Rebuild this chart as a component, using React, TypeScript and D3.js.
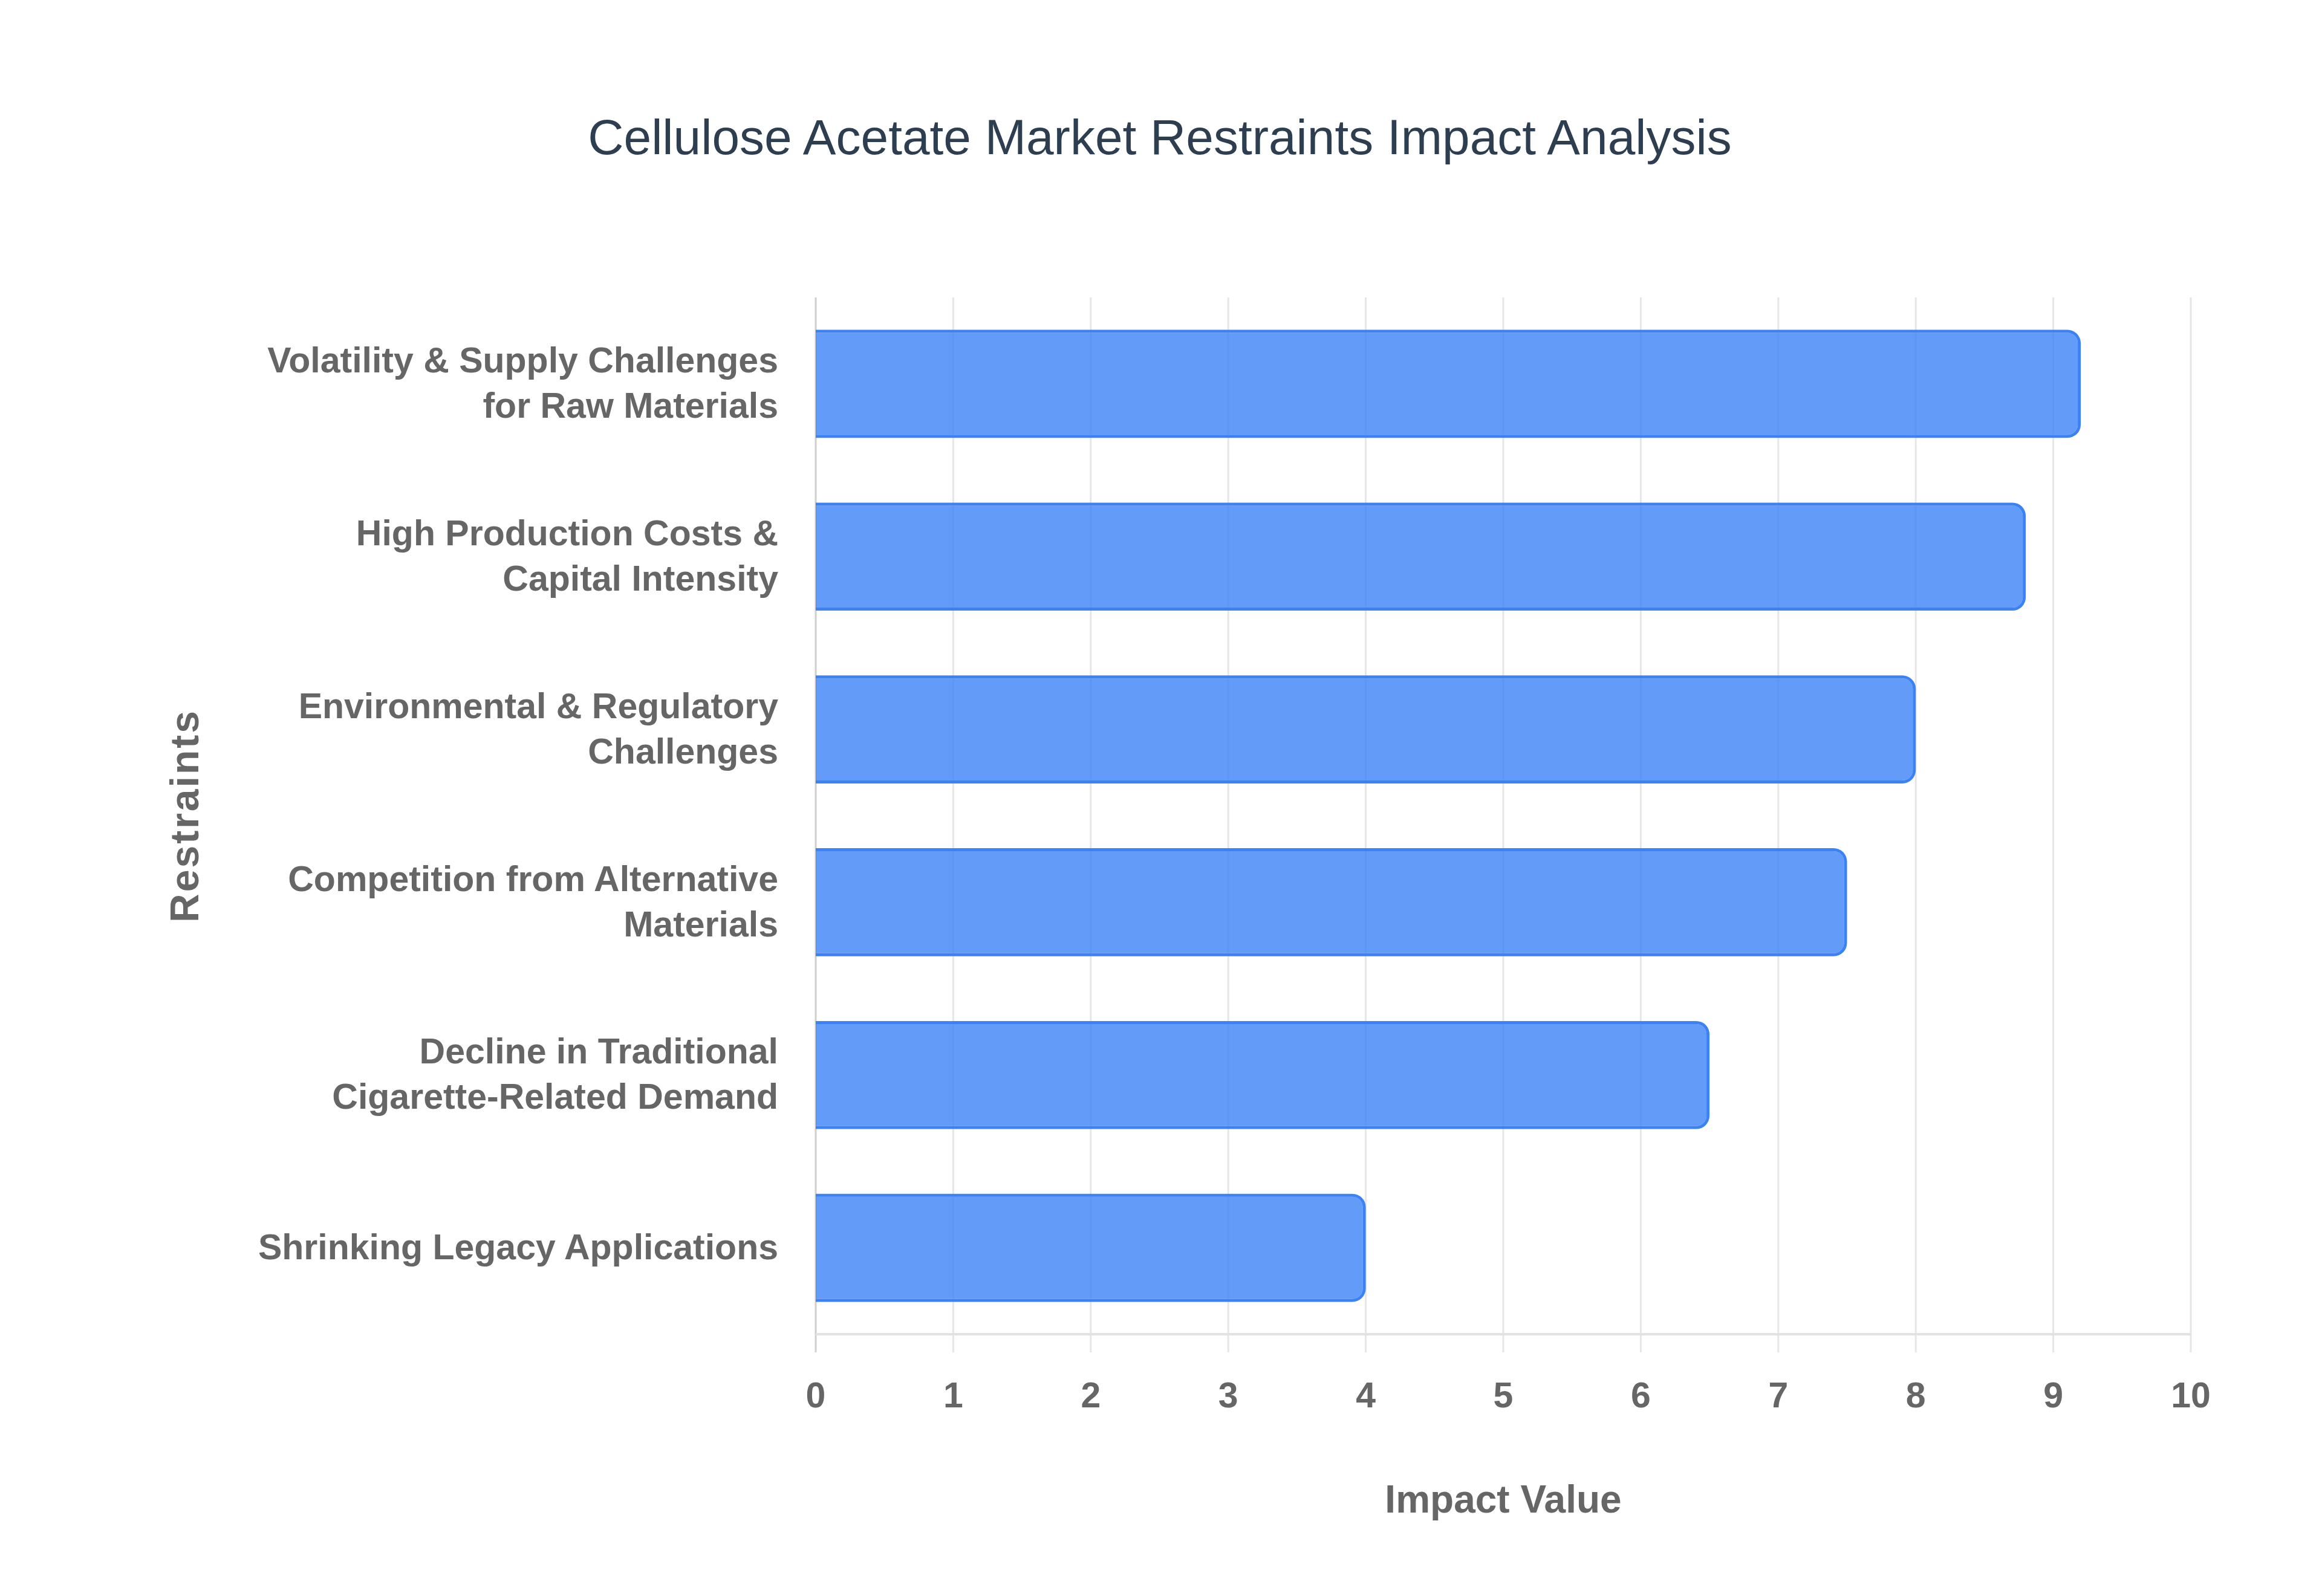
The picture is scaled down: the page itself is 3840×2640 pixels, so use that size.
import * as d3 from "d3";

const restraints = [
  ["Volatility & Supply Challenges", "for Raw Materials"],
  ["High Production Costs &", "Capital Intensity"],
  ["Environmental & Regulatory", "Challenges"],
  ["Competition from Alternative", "Materials"],
  ["Decline in Traditional", "Cigarette-Related Demand"],
  ["Shrinking Legacy Applications"],
];
const impactValues = [9.2, 8.8, 8.0, 7.5, 6.5, 4.0];
const xTicks = [0, 1, 2, 3, 4, 5, 6, 7, 8, 9, 10];

const W = 3840;
const H = 2640;
const margin = { top: 492, right: 217, bottom: 433, left: 1349 };
const FONT = "'Liberation Sans', Arial, Helvetica, sans-serif";

// right-rounded bar, left edge flat on the axis
function barPath(x0: number, y0: number, x1: number, y1: number, r: number) {
  const p = d3.path();
  const rr = Math.max(0, Math.min(r, (y1 - y0) / 2, x1 - x0));
  p.moveTo(x0, y0);
  p.lineTo(x1 - rr, y0);
  p.arcTo(x1, y0, x1, y0 + rr, rr);
  p.lineTo(x1, y1 - rr);
  p.arcTo(x1, y1, x1 - rr, y1, rr);
  p.lineTo(x0, y1);
  p.closePath();
  return p.toString();
}

export default function App() {
  const x = d3
    .scaleLinear()
    .domain([0, 10])
    .range([margin.left, W - margin.right]);
  const keys = restraints.map((r) => r.join(" "));
  const y = d3
    .scaleBand<string>()
    .domain(keys)
    .range([margin.top, H - margin.bottom])
    .padding(0);
  const barH = y.bandwidth() * 0.625;
  const bw = 5;
  const radius = 22;
  const plotTop = margin.top;
  const plotBottom = H - margin.bottom;
  const tickLen = 30;

  return (
    <svg
      width={W}
      height={H}
      style={{ position: "absolute", left: 0, top: 0, background: "#fff" }}
    >
      <rect width={W} height={H} fill="#fff" />
      <text
        x={1918}
        y={255}
        textAnchor="middle"
        fill="#2c3e50"
        style={{ fontFamily: FONT, fontSize: 82 }}
      >
        Cellulose Acetate Market Restraints Impact Analysis
      </text>

      {/* vertical grid */}
      {xTicks.map((t) => (
        <line
          key={t}
          x1={x(t)}
          x2={x(t)}
          y1={plotTop}
          y2={plotBottom + tickLen}
          stroke={t === 0 ? "#cfcfcf" : "#e6e6e6"}
          strokeWidth={3}
        />
      ))}
      <line
        x1={x(0)}
        x2={x(10)}
        y1={plotBottom}
        y2={plotBottom}
        stroke="#e2e2e2"
        strokeWidth={4}
      />

      {/* bars */}
      {impactValues.map((v, i) => {
        const cy = y(keys[i])! + y.bandwidth() / 2;
        const y0 = cy - barH / 2;
        const y1 = cy + barH / 2;
        const x0 = x(0);
        const x1 = x(v);
        const outer = barPath(x0, y0, x1, y1, radius);
        const inner = barPath(x0, y0 + bw, x1 - bw, y1 - bw, radius - bw);
        return (
          <g key={keys[i]}>
            <path d={outer + inner} fill="#3b82f6" fillRule="evenodd" />
            <path d={inner} fill="rgba(59,130,246,0.8)" />
          </g>
        );
      })}

      {/* category labels */}
      {restraints.map((lines, i) => {
        const cy = y(keys[i])! + y.bandwidth() / 2;
        const lh = 75;
        const start = cy - ((lines.length - 1) * lh) / 2 - 2;
        return (
          <text
            key={keys[i]}
            textAnchor="end"
            fill="#666"
            style={{ fontFamily: FONT, fontSize: 59, fontWeight: 700 }}
          >
            {lines.map((ln, j) => (
              <tspan key={j} x={margin.left - 62} y={start + j * lh} dy="0.35em">
                {ln}
              </tspan>
            ))}
          </text>
        );
      })}

      {/* x tick labels */}
      {xTicks.map((t) => (
        <text
          key={t}
          x={x(t)}
          y={2307}
          dy="0.35em"
          textAnchor="middle"
          fill="#666"
          style={{ fontFamily: FONT, fontSize: 59, fontWeight: 700 }}
        >
          {t}
        </text>
      ))}

      <text
        x={(x(0) + x(10)) / 2}
        y={2502}
        textAnchor="middle"
        fill="#666"
        style={{ fontFamily: FONT, fontSize: 64, fontWeight: 700 }}
      >
        Impact Value
      </text>
      <text
        transform={`translate(305, ${(plotTop + plotBottom) / 2}) rotate(-90)`}
        textAnchor="middle"
        dy="0.35em"
        fill="#666"
        style={{ fontFamily: FONT, fontSize: 66, fontWeight: 700, letterSpacing: 3 }}
      >
        Restraints
      </text>
    </svg>
  );
}
